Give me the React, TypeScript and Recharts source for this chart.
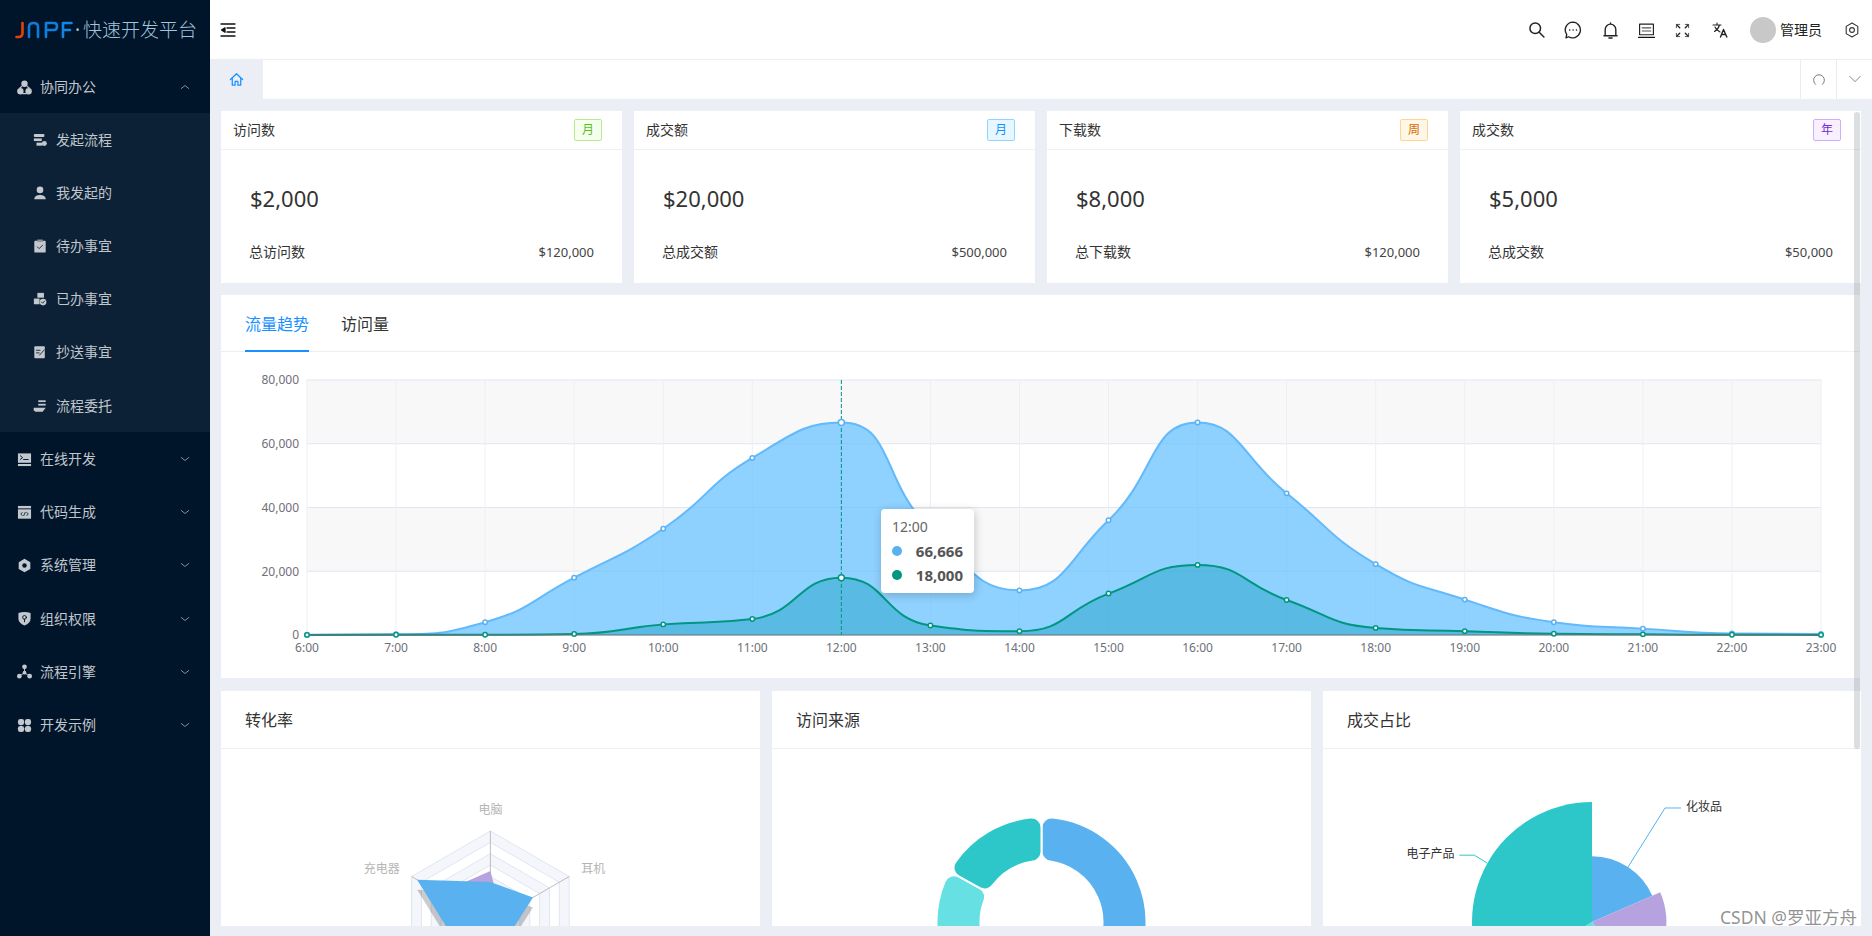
import React from 'react';
import {
  AreaChart, Area, XAxis, YAxis, CartesianGrid, Tooltip,
  RadarChart, Radar, PolarGrid, PolarAngleAxis, PolarRadiusAxis,
  PieChart, Pie, Cell, Sector,
} from 'recharts';

const FONT = '"Noto Sans","Noto Sans CJK SC",sans-serif';

// ---- chart data ----
const hours = ['6:00','7:00','8:00','9:00','10:00','11:00','12:00','13:00','14:00','15:00','16:00','17:00','18:00','19:00','20:00','21:00','22:00','23:00'];
const visits = [111,222,4000,18000,33333,55555,66666,33333,14000,36000,66666,44444,22222,11111,4000,2000,500,333];
const deals = [33,66,88,333,3333,5000,18000,3000,1200,13000,22000,11000,2221,1201,390,198,60,30];
const yTicks = [0,20000,40000,60000,80000];

// listed clockwise from the top
const radarNames = ['电脑','耳机','Ipad','手机','耳机','充电器'];
const radarPurple = [56,15,10,30,40,64];
const radarBlue = [44,54,25,50,44,93];
const radarRings = [100,87.5,75,62.5,50,37.5,25,12.5];

const sourceNames = ['搜索引擎','直接访问','邮件营销','联盟广告'];
const sourceValues = [1048,735,580,484];
const productNames = ['化妆品','服装','家居','电子产品'];
const productValues = [274,310,400,500];
const pieColors = ['#5ab1ef','#b6a2de','#67e0e3','#2ec7c9'];

const cardTitles = ['访问数','成交额','下载数','成交数'];
const cardValues = ['$2,000','$20,000','$8,000','$5,000'];
const cardTotalNames = ['总访问数','总成交额','总下载数','总成交数'];
const cardTotals = ['$120,000','$500,000','$120,000','$50,000'];
const cardTags = ['月','月','周','年'];
const cardTagStyles = [
  ['#f6ffed','#b7eb8f','#52c41a'],
  ['#e6f7ff','#91d5ff','#1890ff'],
  ['#fff7e6','#ffd591','#d46b08'],
  ['#f9f0ff','#d3adf7','#722ed1'],
];
const cardLefts = [221,634,1047,1460];

const subMenu = ['发起流程','我发起的','待办事宜','已办事宜','抄送事宜','流程委托'];
const mainMenu = ['在线开发','代码生成','系统管理','组织权限','流程引擎','开发示例'];

const areaTable = hours.map((h, i) => ({ h, visits: visits[i], deals: deals[i] }));
const radarTable = radarNames.map((name, i) => {
  const row: any = { key: i, name, purple: radarPurple[i], blue: radarBlue[i] };
  radarRings.forEach((r, k) => { row['ring' + k] = r; });
  return row;
});
const sourceTable = sourceNames.map((name, i) => ({ name, value: sourceValues[i] }));
const productTable = productNames.map((name, i) => ({ name, value: productValues[i] }));

// ---- line smoothing of the original chart library, as a d3 curve ----
function smoothCurve(context: any) {
  let pts: [number, number][] = [];
  let line: number = NaN;
  const flush = () => {
    const n = pts.length;
    if (!n) return;
    const smooth = 0.5;
    let cx0 = pts[0][0], cy0 = pts[0][1];
    if (line) context.lineTo(cx0, cy0); else context.moveTo(cx0, cy0);
    for (let i = 1; i < n; i++) {
      const [px, py] = pts[i - 1];
      const [x, y] = pts[i];
      let cx1 = x, cy1 = y, nx0 = x, ny0 = y;
      if (i < n - 1) {
        const [qx, qy] = pts[i + 1];
        let vx = qx - px, vy = qy - py;
        const a = Math.hypot(x - px, y - py) || 1e-6;
        const b = Math.hypot(qx - x, qy - y) || 1e-6;
        const ratio = b / (a + b);
        nx0 = x + vx * smooth * ratio;
        ny0 = y + vy * smooth * ratio;
        nx0 = Math.max(Math.min(nx0, Math.max(qx, x)), Math.min(qx, x));
        ny0 = Math.max(Math.min(ny0, Math.max(qy, y)), Math.min(qy, y));
        vx = nx0 - x; vy = ny0 - y;
        cx1 = x - vx * a / b;
        cy1 = y - vy * a / b;
        cx1 = Math.max(Math.min(cx1, Math.max(px, x)), Math.min(px, x));
        cy1 = Math.max(Math.min(cy1, Math.max(py, y)), Math.min(py, y));
        vx = x - cx1; vy = y - cy1;
        nx0 = x + vx * b / a;
        ny0 = y + vy * b / a;
      }
      context.bezierCurveTo(cx0, cy0, cx1, cy1, x, y);
      cx0 = nx0; cy0 = ny0;
    }
  };
  return {
    areaStart() { line = 0; },
    areaEnd() { line = NaN; },
    lineStart() { pts = []; },
    lineEnd() {
      flush();
      if (line) context.closePath();
      line = 1 - line;
    },
    point(x: number, y: number) { pts.push([+x, +y]); },
  };
}

// ---- small helpers ----
const Txt = ({ x, y, size = 14, color = '#333', right, bold, children, extra }: any) => (
  <div style={{
    position: 'absolute',
    ...(right !== undefined ? { right: 1872 - right } : { left: x }),
    top: y,
    transform: 'translateY(-50%)',
    fontSize: size, color, lineHeight: 1, whiteSpace: 'nowrap', fontWeight: bold ? 700 : 400, ...extra,
  }}>{children}</div>
);

const Box = ({ l, t, r, b, bg, style, children }: any) => (
  <div style={{ position: 'absolute', left: l, top: t, width: r - l, height: b - t, background: bg, ...style }}>{children}</div>
);

const Icon = ({ x, y, size = 16, color = '#222', sw = 1.4, fill = 'none', children }: any) => (
  <svg width={size} height={size} viewBox="0 0 16 16"
    style={{ position: 'absolute', left: x - size / 2, top: y - size / 2 }}
    fill={fill} stroke={color} strokeWidth={sw} strokeLinecap="round" strokeLinejoin="round">{children}</svg>
);

const Chevron = ({ x, y, up }: any) => (
  <Icon x={x} y={y} size={12} color="#9aa5b1" sw={1.1}>
    <path d={up ? 'M3 10 L8 6 L13 10' : 'M3 6 L8 10 L13 6'} />
  </Icon>
);

const G = '#c3c8cf';
const D = '#0c2135';
const sideIcons: any = {
  team: <g fill={G} stroke="none"><circle cx="8" cy="4" r="3.4" /><circle cx="3.6" cy="12" r="3.4" /><circle cx="12.4" cy="12" r="3.4" /><path d="M5 7 L3 8.5 M11 7 L13 8.5 M6 14.5 H10" stroke={G} strokeWidth="1.2" /></g>,
  flow: <g fill={G} stroke="none"><rect x="1" y="1" width="12" height="3.5" rx="1" /><rect x="1" y="6.2" width="9" height="3" /><rect x="4" y="11" width="7" height="3.5" /><circle cx="13" cy="12" r="2.8" /></g>,
  me: <g fill={G} stroke="none"><circle cx="8" cy="4.5" r="3.8" /><path d="M1.5 15 C1.5 8.8 14.5 8.8 14.5 15 Z" /></g>,
  todo: <g><rect x="1.5" y="2" width="13" height="13.5" rx="1" fill={G} stroke="none" /><rect x="4.8" y="0.6" width="6.4" height="2.8" fill="#8b929b" stroke="none" /><path d="M5 9 L7 11 L11 7" stroke={D} strokeWidth="1" /></g>,
  done: <g><rect x="5" y="1" width="7.5" height="5.5" fill={G} stroke="none" /><rect x="1" y="7.5" width="6.5" height="6.5" fill={G} stroke="none" /><circle cx="11.5" cy="11.5" r="3.8" fill={G} stroke="none" /><path d="M9.8 11.5 L11 12.8 L13.2 10.4" stroke={D} strokeWidth="1" /></g>,
  copy: <g><rect x="1.5" y="1.5" width="12" height="13.5" rx="1" fill={G} stroke="none" /><path d="M4 6 H8 M4 9 H7 M7.5 11.5 L13 5.5" stroke={D} strokeWidth="1" /></g>,
  hand: <g fill={G} stroke="none"><rect x="6" y="1.5" width="8.5" height="2" /><rect x="6" y="5.5" width="8.5" height="2" /><path d="M0.8 10 H6 L14.5 10 L11 14.5 H3 L0.8 13 Z" /></g>,
  term: <g><path d="M1 1.5 H15 V11.5 H1 Z" fill={G} stroke="none" /><rect x="1" y="12.8" width="14" height="2.2" fill={G} stroke="none" /><path d="M3.5 4 L6 6 L3.5 8 M7 8 H12" stroke="#001529" strokeWidth="1" /></g>,
  code: <g><rect x="1" y="1" width="14" height="2.6" fill={G} stroke="none" /><rect x="1" y="4.6" width="14" height="10" fill={G} stroke="none" /><path d="M5.5 8 L4 9.6 L5.5 11.2 M10.5 8 L12 9.6 L10.5 11.2 M8.8 7.8 L7.2 11.4" stroke="#001529" strokeWidth="0.9" /></g>,
  gear: <g><path d="M8 0.8 L14.2 4.4 V11.6 L8 15.2 L1.8 11.6 V4.4 Z" fill={G} stroke="none" /><circle cx="8" cy="8" r="2.4" fill="#001529" stroke="none" /></g>,
  shield: <g><path d="M1.5 2 Q8 0 14.5 2 V8 Q14.5 13 8 15.5 Q1.5 13 1.5 8 Z" fill={G} stroke="none" /><circle cx="8" cy="6.8" r="2" fill="none" stroke="#001529" strokeWidth="1" /><path d="M8 8.8 V11.5" stroke="#001529" strokeWidth="1" /></g>,
  net: <g><circle cx="8" cy="3" r="2.5" fill={G} stroke="none" /><circle cx="2.5" cy="13" r="2.5" fill={G} stroke="none" /><circle cx="13.5" cy="13" r="2.5" fill={G} stroke="none" /><circle cx="8" cy="9.3" r="2" fill={G} stroke="none" /><path d="M8 3 V9.3 M2.5 13 L8 9.3 L13.5 13" stroke={G} strokeWidth="1" /></g>,
  apps: <g fill={G} stroke="none"><rect x="1" y="1" width="6.6" height="6.6" rx="2.6" /><rect x="8.4" y="1" width="6.6" height="6.6" rx="2.6" /><rect x="1" y="8.4" width="6.6" height="6.6" rx="2.6" /><rect x="8.4" y="8.4" width="6.6" height="6.6" rx="2.6" /></g>,
};
const subIcons = ['flow','me','todo','done','copy','hand'];
const mainIcons = ['term','code','gear','shield','net','apps'];

const rowY = (i: number) => 140 + i * 53.1;
const mainY = (i: number) => 459 + i * 53.2;

function Logo() {
  return (
    <>
      <svg width={62} height={24} viewBox="0 0 62 24" style={{ position: 'absolute', left: 13, top: 18 }}
        fill="none" strokeWidth={2.6} strokeLinecap="round" strokeLinejoin="round">
        <path d="M9.5 5 V15 Q9.5 19 5.5 19 H3.5" stroke="#e8400c" />
        <path d="M16 19 V9 Q16 5 20.5 5 Q25 5 25 9 V19" stroke="#1278d8" />
        <path d="M33 19 V5 H41 Q44 5 44 8.5 Q44 12 41 12 H33" stroke="#0f7fe0" />
        <path d="M50 19 V5 H58.5 M50 12 H57" stroke="#0f86e8" />
      </svg>
      <Txt x={75} y={30} size={19} color="#a4c3dc">·</Txt>
      <Txt x={83} y={30} size={19} color="#a4c3dc" extra={{ fontWeight: 300 }}>快速开发平台</Txt>
    </>
  );
}

function Sidebar() {
  return (
    <Box l={0} t={0} r={210} b={936} bg="#001529">
      <Logo />
      <Icon x={24} y={87} size={15}>{sideIcons.team}</Icon>
      <Txt x={40} y={87} color="#c0c6cd">协同办公</Txt>
      <Chevron x={185} y={87} up />
      <Box l={0} t={113} r={210} b={432} bg="#0c2135" />
      {subMenu.map((m, i) => (
        <React.Fragment key={m}>
          <Icon x={40} y={rowY(i)} size={14}>{sideIcons[subIcons[i]]}</Icon>
          <Txt x={56} y={rowY(i)} color="#c0c6cd">{m}</Txt>
        </React.Fragment>
      ))}
      {mainMenu.map((m, i) => (
        <React.Fragment key={m}>
          <Icon x={24} y={mainY(i)} size={15}>{sideIcons[mainIcons[i]]}</Icon>
          <Txt x={40} y={mainY(i)} color="#c0c6cd">{m}</Txt>
          <Chevron x={185} y={mainY(i)} />
        </React.Fragment>
      ))}
    </Box>
  );
}

function Header() {
  return (
    <>
      <Box l={210} t={0} r={1872} b={59} bg="#fff" />
      <Box l={210} t={59} r={1872} b={60} bg="#eeeeee" />
      <Box l={210} t={60} r={1872} b={99} bg="#fff" />
      <Box l={210} t={60} r={263} b={99} bg="#ebeef5" />
      <Box l={1800} t={60} r={1801} b={99} bg="#ececec" />
      <Box l={1836} t={60} r={1837} b={99} bg="#ececec" />
      <Icon x={228} y={30} size={16} color="#111" sw={1.3}>
        <path d="M1 2 H15 M7 6 H15 M7 10 H15 M1 14 H15" />
        <path d="M5 5.8 L1.5 8 L5 10.2 Z" fill="#111" />
      </Icon>
      <Icon x={236} y={79} size={15} color="#1890ff" sw={1.3}>
        <path d="M1.5 8 L8 1.8 L14.5 8 M3.5 6.5 V14 H6.5 V10 H9.5 V14 H12.5 V6.5" />
      </Icon>
      <Icon x={1819} y={80} size={14} color="#666" sw={1}>
        <path d="M4 13 A6.2 6.2 0 1 1 12 13" />
      </Icon>
      <Icon x={1855} y={79} size={14} color="#777" sw={1}>
        <path d="M2 5 L8 11 L14 5" />
      </Icon>
      <Icon x={1536} y={29} size={17}><circle cx="6.8" cy="6.8" r="5" /><path d="M10.5 10.5 L15 15" /></Icon>
      <Icon x={1573} y={30} size={18} sw={1.2}>
        <path d="M8 1 A7 7 0 1 1 4 14 L1.8 15 L2.4 12 A7 7 0 0 1 8 1 Z" />
        <path d="M5 8 H5.2 M8 8 H8.2 M11 8 H11.2" />
      </Icon>
      <Icon x={1610} y={30} size={17} sw={1.3}>
        <path d="M3 13 V7 A5 5 0 0 1 13 7 V13 Z M1.8 13 H14.2 M6.5 15 H9.5 M8 1 V2" />
      </Icon>
      <Icon x={1646} y={30} size={17} sw={1.1}>
        <path d="M1.5 2 H14.5 V12 H1.5 Z" />
        <path d="M0.5 14.5 H15.5" stroke="#111" />
        <path d="M4 5.5 H12 M4 8.5 H12" stroke="#555" />
      </Icon>
      <Icon x={1682} y={30} size={15} sw={1.5}>
        <path d="M2 2 L5 5 M14 2 L11 5 M2 14 L5 11 M14 14 L11 11" />
        <path d="M1.5 5 V1.5 H5 M11 1.5 H14.5 V5 M1.5 11 V14.5 H5 M11 14.5 H14.5 V11" strokeWidth="0.8" />
      </Icon>
      <Icon x={1720} y={30} size={16} sw={1.1}>
        <path d="M1 3 H9 M5 1 V3 M2.5 9.5 C5 8 7 5 7.5 3 M3 5 C4 7.5 6 9 8 10" />
        <path d="M8.5 15 L11.5 7.5 L14.8 15 M9.6 12.5 H13.6" strokeWidth="1.4" />
      </Icon>
      <div style={{ position: 'absolute', left: 1750, top: 17, width: 26, height: 26, borderRadius: '50%', background: '#c8c8c8' }} />
      <Txt x={1780} y={30} color="#222">管理员</Txt>
      <Icon x={1852} y={30} size={16} color="#333" sw={1.1}>
        <path d="M8 1 L13.8 4.4 V11.6 L8 15 L2.2 11.6 V4.4 Z" />
        <circle cx="8" cy="8" r="2.4" />
      </Icon>
    </>
  );
}

function StatCard({ i }: { i: number }) {
  const l = cardLefts[i];
  const tag = cardTagStyles[i];
  const tagR = l + 381;
  return (
    <>
      <Box l={l} t={111} r={l + 401} b={283} bg="#fff" />
      <Box l={l} t={149} r={l + 401} b={150} bg="#f0f0f0" />
      <Txt x={l + 12} y={130} color="#333">{cardTitles[i]}</Txt>
      <div style={{
        position: 'absolute', left: tagR - 28, top: 119, width: 28, height: 22, boxSizing: 'border-box',
        background: tag[0], border: `1px solid ${tag[1]}`, borderRadius: 2, color: tag[2], fontSize: 12,
        textAlign: 'center', lineHeight: '20px',
      }}>{cardTags[i]}</div>
      <Txt x={l + 29} y={198} size={22} color="#333">{cardValues[i]}</Txt>
      <Txt x={l + 28} y={252} size={14} color="#333">{cardTotalNames[i]}</Txt>
      <Txt right={l + 373} y={252} size={13} color="#444">{cardTotals[i]}</Txt>
    </>
  );
}

const TipContent = ({ active, payload, label }: any) => {
  if (!active || !payload || !payload.length) return null;
  return (
    <div style={{
      width: 93, height: 84, boxSizing: 'border-box', background: '#fff', borderRadius: 4,
      boxShadow: '1px 2px 10px rgba(0,0,0,0.2)', position: 'relative', fontFamily: FONT,
    }}>
      <div style={{ position: 'absolute', left: 11, top: 9, fontSize: 14, lineHeight: '18px', color: '#666' }}>{label}</div>
      {payload.map((p: any, i: number) => (
        <div key={p.dataKey}>
          <div style={{ position: 'absolute', left: 11, top: 37 + i * 24, width: 10, height: 10, borderRadius: 5, background: i === 0 ? '#5ab1ef' : '#019680' }} />
          <div style={{ position: 'absolute', right: 11, top: 33 + i * 24, fontSize: 15, fontWeight: 700, lineHeight: '18px', color: '#555' }}>
            {Number(p.value).toLocaleString('en-US')}
          </div>
        </div>
      ))}
    </div>
  );
};

function TrendChart() {
  return (
    <AreaChart width={1639} height={326} data={areaTable}
      margin={{ top: 28, right: 39, bottom: 0, left: 46 }}>
      <CartesianGrid horizontal vertical={false} stroke="#e0e6f1" horizontalFill={['#f8f8f8', '#ffffff']} />
      <CartesianGrid horizontal={false} vertical stroke="#eceff4" />
      <XAxis dataKey="h" scale="point" interval={0} axisLine={{ stroke: '#6e7079' }} tickLine={false}
        tick={{ fontSize: 12, fill: '#6e7079', fontFamily: FONT }} tickMargin={2} height={43} />
      <YAxis domain={[0, 80000]} ticks={yTicks} width={40} axisLine={false} tickLine={false}
        tick={{ fontSize: 12, fill: '#6e7079', fontFamily: FONT }} tickMargin={2}
        tickFormatter={(v: number) => v.toLocaleString('en-US')} />
      <Tooltip defaultIndex={6} active position={{ x: 660, y: 157 }} content={<TipContent />}
        isAnimationActive={false} wrapperStyle={{ outline: 'none', zIndex: 5 }}
        cursor={{ stroke: '#019680', strokeWidth: 1, strokeDasharray: '4 2' }} />
      <Area dataKey="visits" type={smoothCurve as any} stroke="#62b9fb" strokeWidth={2}
        fill="#70c4ff" fillOpacity={0.78} isAnimationActive={false}
        dot={{ r: 2.2, fill: '#fff', stroke: '#5ab1ef', strokeWidth: 1.5, fillOpacity: 1 }}
        activeDot={{ r: 3, fill: '#fff', stroke: '#5ab1ef', strokeWidth: 1.5 }} />
      <Area dataKey="deals" type={smoothCurve as any} stroke="#019680" strokeWidth={2}
        fill="#0196b4" fillOpacity={0.373} isAnimationActive={false}
        dot={{ r: 2.2, fill: '#fff', stroke: '#019680', strokeWidth: 1.5, fillOpacity: 1 }}
        activeDot={{ r: 3, fill: '#fff', stroke: '#019680', strokeWidth: 1.5 }} />
    </AreaChart>
  );
}

// The labels of the lower spokes lie below the card's visible part, as in the reference.
const RadarTick = ({ x, y, payload, textAnchor, cy }: any) => {
  const idx = Number(payload.value);
  if (idx >= 2 && idx <= 4) return <g />;
  return (
    <text x={x + (textAnchor === 'start' ? 5 : textAnchor === 'end' ? -5 : 0)}
      y={y + (textAnchor === 'middle' ? -12.5 : -2.5)}
      textAnchor={textAnchor} dominantBaseline="middle" fontSize={12} fill="#b5b5b5" fontFamily={FONT}>
      {radarNames[idx]}
    </text>
  );
};

const zeroMargin = { top: 0, right: 0, bottom: 0, left: 0 };

function RadarBlock() {
  const cx = 269.4, cy = 150, R = 91;
  return (
    <>
      <div style={{ position: 'absolute', left: 0, top: 24 }}>
        <RadarChart width={539} height={300} data={radarTable} cx={cx} cy={cy} outerRadius={R} margin={zeroMargin}>
          <PolarAngleAxis dataKey="key" tick={false} axisLine={false} />
          <PolarRadiusAxis domain={[0, 100]} tick={false} axisLine={false} />
          {radarRings.map((_, k) => (
            <Radar key={k} dataKey={'ring' + k} stroke="#e0e6f1" strokeWidth={1}
              fill={k % 2 === 0 ? '#f5f6fb' : '#ffffff'} fillOpacity={1} isAnimationActive={false} dot={false} />
          ))}
        </RadarChart>
      </div>
      <div style={{ position: 'absolute', left: 0, top: 24 }}>
        <RadarChart width={539} height={300} data={radarTable} cx={cx} cy={cy} outerRadius={R} margin={zeroMargin}>
          <PolarGrid gridType="polygon" polarRadius={[]} stroke="#bdbdbd" />
          <PolarAngleAxis dataKey="key" axisLine={false} tickLine={false}
            tick={(p: any) => <RadarTick {...p} />} />
          <PolarRadiusAxis domain={[0, 100]} tick={false} axisLine={false} />
          <Radar dataKey="purple" stroke="none" fill="#b6a2de" fillOpacity={1} isAnimationActive={false} dot={false}
            style={{ filter: 'drop-shadow(0 10px 0 rgba(0,0,0,0.2))' }} />
          <Radar dataKey="blue" stroke="none" fill="#5ab1ef" fillOpacity={1} isAnimationActive={false} dot={false}
            style={{ filter: 'drop-shadow(0 10px 0 rgba(0,0,0,0.2))' }} />
        </RadarChart>
      </div>
    </>
  );
}

function DonutBlock() {
  return (
    <div style={{ position: 'absolute', left: 0, top: 24 }}>
      <PieChart width={539} height={300} margin={zeroMargin}>
        <Pie data={sourceTable} dataKey="value" nameKey="name" cx={269.5} cy={150}
          innerRadius={61} outerRadius={105} startAngle={90} endAngle={-270}
          cornerRadius={10} stroke="#fff" strokeWidth={2} isAnimationActive={false} label={false} labelLine={false}>
          {sourceTable.map((d, i) => <Cell key={d.name} fill={pieColors[i]} />)}
        </Pie>
      </PieChart>
    </div>
  );
}

const maxProduct = Math.max(...productValues);
const roseRadius = (v: number) => (v / maxProduct) * 120;

const RoseShape = (p: any) => <Sector {...p} outerRadius={roseRadius(p.value)} stroke="none" />;

const labelOffsets: any = { 0: [37, -59, 16], 3: [-13, -8, -15] };

const RoseLabel = (p: any) => {
  const { cx, cy, midAngle, index, value, name } = p;
  const off = labelOffsets[index];
  if (!off) return <g />; // these two labels lie below the card's visible part
  const r = roseRadius(value);
  const rad = (midAngle * Math.PI) / 180;
  const x0 = cx + r * Math.cos(rad);
  const y0 = cy - r * Math.sin(rad);
  const [dx, dy, run] = off;
  const x1 = x0 + dx, y1 = y0 + dy, x2 = x1 + run;
  return (
    <g>
      <polyline points={`${x0},${y0} ${x1},${y1} ${x2},${y1}`} fill="none" stroke={pieColors[index]} strokeWidth={1} />
      <text x={x2 + (run > 0 ? 5 : -5)} y={y1} textAnchor={run > 0 ? 'start' : 'end'} dominantBaseline="middle"
        fontSize={12} fill="#333" fontFamily={FONT}>{name}</text>
    </g>
  );
};

function RoseBlock() {
  return (
    <div style={{ position: 'absolute', left: 0, top: 24 }}>
      <PieChart width={538} height={300} margin={zeroMargin}>
        <Pie data={productTable} dataKey="value" nameKey="name" cx={269} cy={150}
          innerRadius={0} outerRadius={120} startAngle={90} endAngle={-270} stroke="none"
          isAnimationActive={false} shape={RoseShape as any} label={RoseLabel as any} labelLine={false}>
          {productTable.map((d, i) => <Cell key={d.name} fill={pieColors[i]} />)}
        </Pie>
      </PieChart>
    </div>
  );
}

const lowerCards = [
  { l: 221, r: 760, title: '转化率', body: <RadarBlock /> },
  { l: 772, r: 1311, title: '访问来源', body: <DonutBlock /> },
  { l: 1323, r: 1861, title: '成交占比', body: <RoseBlock /> },
];

export default function App() {
  return (
    <div style={{ position: 'absolute', left: 0, top: 0, width: 1872, height: 936, overflow: 'hidden', background: '#ebeef5', fontFamily: FONT }}>
      <Sidebar />
      <Header />
      {cardLefts.map((_, i) => <StatCard key={i} i={i} />)}

      <Box l={221} t={295} r={1860} b={678} bg="#fff" />
      <Box l={221} t={351} r={1860} b={352} bg="#ebeef5" />
      <Txt x={245} y={324} size={16} color="#1890ff">流量趋势</Txt>
      <Txt x={341} y={324} size={16} color="#333">访问量</Txt>
      <Box l={245} t={350} r={309} b={352} bg="#1890ff" />
      <div style={{ position: 'absolute', left: 221, top: 352 }}><TrendChart /></div>

      {lowerCards.map((c) => (
        <Box key={c.title} l={c.l} t={691} r={c.r} b={926} bg="#fff" style={{ overflow: 'hidden' }}>
          <Box l={0} t={57} r={c.r - c.l} b={58} bg="#f0f0f0" />
          <div style={{ position: 'absolute', left: 0, top: 57, width: c.r - c.l, height: 178, overflow: 'hidden' }}>{c.body}</div>
          <div style={{ position: 'absolute', left: 24, top: 29, transform: 'translateY(-50%)', fontSize: 16, color: '#333', lineHeight: 1, whiteSpace: 'nowrap' }}>{c.title}</div>
        </Box>
      ))}

      <div style={{ position: 'absolute', left: 1854, top: 112, width: 6, height: 637, borderRadius: 3, background: 'rgba(144,147,153,0.3)' }} />
      <Txt right={1857} y={918} size={17.5} color="rgba(110,110,110,0.75)">CSDN @罗亚方舟</Txt>
    </div>
  );
}
